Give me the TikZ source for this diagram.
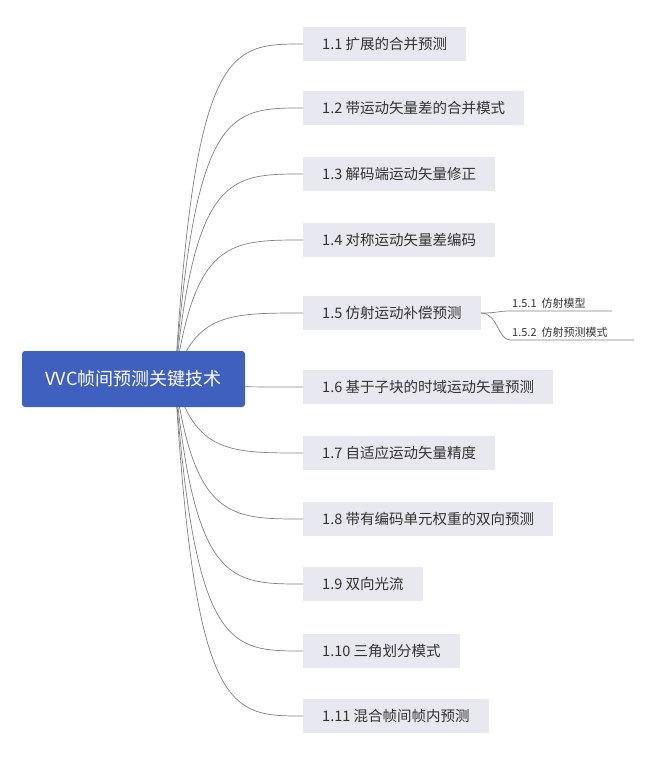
\documentclass[tikz,border=0pt]{standalone}
\usepackage{fontspec}
\setmainfont{Noto Sans CJK SC}
\begin{document}
\begin{tikzpicture}[x=1pt,y=-1pt,
  child/.style={fill=boxfill,anchor=west,minimum height=34pt,inner xsep=19pt,text=textc,font=\fontsize{14.5}{16}\selectfont},
  conn/.style={draw=linec,line width=0.7pt},
  sub/.style={anchor=south west,text=textc,font=\fontsize{11}{13}\selectfont,inner sep=2pt}]
\definecolor{boxfill}{HTML}{E8E8F0}
\definecolor{textc}{HTML}{333333}
\definecolor{linec}{HTML}{808080}
\definecolor{rootc}{HTML}{4060C0}
\useasboundingbox (0,0) rectangle (654,758);
\coordinate (o) at (175,379);
\foreach \n/\y/\t in {a/44/{1.1 扩展的合并预测},b/108/{1.2 带运动矢量差的合并模式},c/174/{1.3 解码端运动矢量修正},d/240/{1.4 对称运动矢量差编码},e/313/{1.5 仿射运动补偿预测},f/387/{1.6 基于子块的时域运动矢量预测},g/453/{1.7 自适应运动矢量精度},h/519/{1.8 带有编码单元权重的双向预测},i/584/{1.9 双向光流},j/651/{1.10 三角划分模式},k/716/{1.11 混合帧间帧内预测}}{
  \node[child] (\n) at (303,\y) {\t};
  \draw[conn] (o) .. controls (195,\y) and (230,\y) .. (\n.west);
}
\node[fill=rootc,rounded corners=3pt,minimum width=223pt,minimum height=56pt,text=white,font=\fontsize{18}{21}\selectfont] (root) at (133.5,379) {VVC帧间预测关键技术};
\coordinate (s1) at (510,311);
\coordinate (s1e) at (612,311);
\coordinate (s2) at (510,340);
\coordinate (s2e) at (634,340);
\node[sub] (t1) at (s1) {1.5.1\ \ 仿射模型};
\node[sub] (t2) at (s2) {1.5.2\ \ 仿射预测模式};
\draw[conn] (e.east) .. controls (498,313) and (498,311) .. (s1) -- (s1e);
\draw[conn] (e.east) .. controls (498,313) and (498,340) .. (s2) -- (s2e);
\end{tikzpicture}
\end{document}
